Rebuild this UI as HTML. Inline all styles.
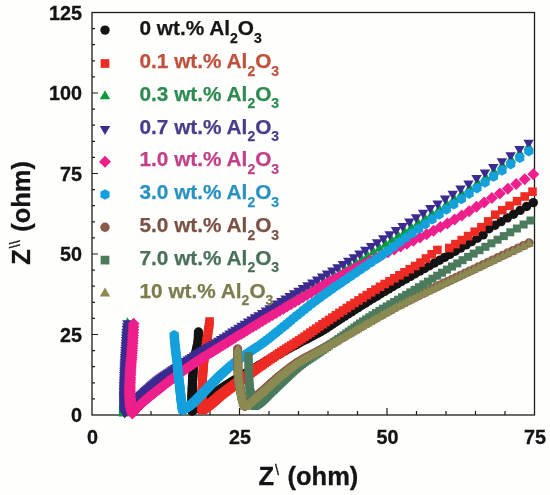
<!DOCTYPE html>
<html><head><meta charset="utf-8"><title>Nyquist plot</title>
<style>html,body{margin:0;padding:0;background:#fefefd}body{width:550px;height:495px;overflow:hidden}</style></head>
<body>
<svg width="550" height="495" viewBox="0 0 550 495" style="display:block;font-family:'Liberation Sans',sans-serif;font-weight:bold">
<rect width="550" height="495" fill="#fefefd"/>
<defs><marker id="m0" markerWidth="14" markerHeight="14" refX="0" refY="0" viewBox="-7 -7 14 14" markerUnits="userSpaceOnUse" overflow="visible"><circle r="4.7" fill="#131313"/></marker><marker id="m1" markerWidth="14" markerHeight="14" refX="0" refY="0" viewBox="-7 -7 14 14" markerUnits="userSpaceOnUse" overflow="visible"><rect x="-4.3" y="-4.3" width="8.6" height="8.6" fill="#ee2a24"/></marker><marker id="m2" markerWidth="14" markerHeight="14" refX="0" refY="0" viewBox="-7 -7 14 14" markerUnits="userSpaceOnUse" overflow="visible"><path d="M0-5.2L5.2 3.8H-5.2Z" fill="#0a9b3c"/></marker><marker id="m3" markerWidth="14" markerHeight="14" refX="0" refY="0" viewBox="-7 -7 14 14" markerUnits="userSpaceOnUse" overflow="visible"><path d="M0 5.2L5.2-3.8H-5.2Z" fill="#3b2a8f"/></marker><marker id="m4" markerWidth="14" markerHeight="14" refX="0" refY="0" viewBox="-7 -7 14 14" markerUnits="userSpaceOnUse" overflow="visible"><path d="M0-6L6 0L0 6L-6 0Z" fill="#ee1f8c"/></marker><marker id="m5" markerWidth="14" markerHeight="14" refX="0" refY="0" viewBox="-7 -7 14 14" markerUnits="userSpaceOnUse" overflow="visible"><path d="M0-5.3L4.6-2.65V2.65L0 5.3L-4.6 2.65V-2.65Z" fill="#14a0dc"/></marker><marker id="m6" markerWidth="14" markerHeight="14" refX="0" refY="0" viewBox="-7 -7 14 14" markerUnits="userSpaceOnUse" overflow="visible"><circle r="4.7" fill="#8a5a4a"/></marker><marker id="m7" markerWidth="14" markerHeight="14" refX="0" refY="0" viewBox="-7 -7 14 14" markerUnits="userSpaceOnUse" overflow="visible"><rect x="-4.0" y="-4.0" width="8.0" height="8.0" fill="#4b7a5c"/></marker><marker id="m8" markerWidth="14" markerHeight="14" refX="0" refY="0" viewBox="-7 -7 14 14" markerUnits="userSpaceOnUse" overflow="visible"><path d="M0-4.6L4.8 3.6H-4.8Z" fill="#8b8a52"/></marker><clipPath id="cp"><rect x="84.0" y="12.5" width="457.5" height="409.5"/></clipPath></defs>
<path d="M92.0 398.90h3M92.0 382.80h3M92.0 366.70h3M92.0 350.60h3M92.0 334.50h6M92.0 318.40h3M92.0 302.30h3M92.0 286.20h3M92.0 270.10h3M92.0 254.00h6M92.0 237.90h3M92.0 221.80h3M92.0 205.70h3M92.0 189.60h3M92.0 173.50h6M92.0 157.40h3M92.0 141.30h3M92.0 125.20h3M92.0 109.10h3M92.0 93.00h6M92.0 76.90h3M92.0 60.80h3M92.0 44.70h3M92.0 28.60h3M121.50 415.0v-4M151.00 415.0v-4M180.50 415.0v-4M210.00 415.0v-4M239.50 415.0v-7M269.00 415.0v-4M298.50 415.0v-4M328.00 415.0v-4M357.50 415.0v-4M387.00 415.0v-7M416.50 415.0v-4M446.00 415.0v-4M475.50 415.0v-4M505.00 415.0v-4" stroke="#1c1c1c" stroke-width="1.2" fill="none"/>
<rect x="92.0" y="12.5" width="442.5" height="402.5" fill="none" stroke="#1c1c1c" stroke-width="1.3"/>
<g clip-path="url(#cp)">
<polyline points="198.5,332.0 198.4,335.0 198.3,337.9 198.0,340.8 197.7,343.5 197.1,346.1 196.5,348.7 196.0,351.2 195.5,353.6 195.1,356.0 194.7,358.3 194.4,360.6 194.1,362.8 193.8,364.9 193.6,367.0 193.3,369.1 193.2,371.1 193.0,373.0 192.9,374.9 192.8,376.7 192.7,378.5 192.6,380.3 192.5,382.0 192.5,383.6 192.4,385.2 192.3,386.8 192.3,388.3 192.2,389.8 192.2,391.2 192.1,392.6 192.1,394.0 192.1,395.3 192.0,396.6 192.0,397.9 192.0,399.1 192.0,400.3 192.0,401.5 192.0,402.6 192.0,403.7 192.0,404.8 192.0,405.8 192.0,406.8 192.0,407.8 192.0,408.8 192.0,409.7 192.0,410.6 192.0,411.0 192.5,410.6 193.0,410.2 193.5,409.8 194.0,409.3 194.5,408.9 195.0,408.5 195.6,408.0 196.1,407.6 196.7,407.1 197.3,406.6 197.8,406.2 198.4,405.7 199.0,405.2 199.7,404.7 200.3,404.2 200.9,403.7 201.6,403.2 202.3,402.6 202.9,402.1 203.6,401.6 204.3,401.0 205.1,400.5 205.8,399.9 206.5,399.3 207.3,398.7 208.1,398.1 208.9,397.5 209.7,396.9 210.5,396.3 211.4,395.7 212.2,395.0 213.1,394.4 214.0,393.7 214.9,393.1 215.8,392.4 216.8,391.7 217.8,391.0 218.7,390.4 219.8,389.7 220.8,389.0 221.9,388.3 222.9,387.5 224.0,386.8 225.2,386.1 226.3,385.3 227.5,384.6 228.7,383.8 229.9,383.0 231.1,382.2 232.4,381.5 233.7,380.6 235.0,379.8 236.4,379.0 237.8,378.2 239.2,377.3 240.6,376.5 242.0,375.6 243.5,374.7 245.0,373.8 246.6,372.9 248.2,371.9 249.8,371.0 251.4,370.0 253.1,369.1 254.8,368.1 256.5,367.1 258.2,366.0 260.0,365.0 261.8,363.9 263.7,362.8 265.6,361.8 267.5,360.6 269.5,359.5 271.5,358.4 273.5,357.2 275.6,356.0 277.7,354.8 279.9,353.6 282.1,352.4 284.3,351.1 286.6,349.8 288.9,348.6 291.3,347.3 293.7,345.9 296.2,344.6 298.7,343.2 301.2,341.8 303.9,340.5 306.6,339.1 309.3,337.7 312.1,336.3 314.9,334.8 317.8,333.2 320.7,331.6 323.5,329.9 326.5,328.1 329.4,326.2 332.4,324.3 335.4,322.3 338.5,320.2 341.6,318.2 344.8,316.1 348.1,314.0 351.5,311.9 354.9,309.7 358.3,307.6 361.9,305.3 365.5,303.1 369.2,300.8 373.0,298.5 376.8,296.2 380.7,293.8 384.7,291.4 388.8,289.0 393.0,286.5 397.2,284.0 401.5,281.5 406.0,279.0 410.5,276.4 415.1,273.8 419.8,271.1 424.6,268.5 429.5,265.8 434.5,263.0 439.6,260.2 444.7,257.4 449.9,254.4 455.2,251.3 460.6,248.1 466.1,244.9 471.6,241.6 477.3,238.3 483.1,234.9 489.0,228.7 495.0,225.2 501.1,221.6 507.3,217.9 513.6,214.2 520.1,210.4 526.6,206.5 533.3,202.6" fill="none" stroke="none" marker-start="url(#m0)" marker-mid="url(#m0)" marker-end="url(#m0)"/>
<polyline points="209.6,321.5 209.2,324.5 208.8,327.4 208.4,330.2 208.0,333.0 207.6,335.7 207.2,338.3 206.8,340.9 206.4,343.4 206.1,345.8 205.7,348.2 205.4,350.5 205.0,352.8 204.7,355.0 204.4,357.2 204.1,359.3 203.8,361.4 203.6,363.4 203.4,365.4 203.3,367.3 203.1,369.2 203.0,371.1 202.9,372.9 202.8,374.6 202.7,376.4 202.6,378.0 202.5,379.7 202.4,381.3 202.3,382.8 202.3,384.4 202.2,385.8 202.2,387.3 202.1,388.7 202.1,390.1 202.0,391.5 202.0,392.8 202.0,394.1 202.0,395.3 202.0,396.6 202.0,397.8 202.0,398.9 202.0,400.1 202.0,401.2 202.0,402.3 202.0,403.3 202.0,404.4 202.0,405.4 202.0,406.4 202.0,407.3 202.0,408.3 202.0,409.2 202.0,410.0 202.5,409.7 203.1,409.3 203.6,408.9 204.1,408.6 204.7,408.2 205.3,407.8 205.8,407.4 206.4,407.0 207.0,406.5 207.6,406.1 208.3,405.6 208.9,405.1 209.5,404.7 210.2,404.2 210.8,403.6 211.5,403.1 212.2,402.5 212.9,401.9 213.6,401.3 214.3,400.7 215.0,400.1 215.7,399.4 216.5,398.8 217.3,398.1 218.0,397.4 218.9,396.7 219.7,396.0 220.6,395.3 221.5,394.6 222.4,393.9 223.3,393.2 224.3,392.4 225.3,391.7 226.3,390.9 227.3,390.1 228.4,389.3 229.5,388.5 230.6,387.7 231.7,386.9 232.9,386.0 234.1,385.1 235.3,384.2 236.6,383.3 237.9,382.4 239.2,381.4 240.5,380.4 241.9,379.4 243.2,378.4 244.7,377.4 246.1,376.3 247.6,375.2 249.1,374.1 250.7,373.0 252.3,371.8 253.9,370.6 255.6,369.4 257.3,368.2 259.1,366.9 260.9,365.7 262.7,364.4 264.6,363.1 266.5,361.8 268.5,360.4 270.6,359.0 272.6,357.6 274.8,356.2 277.0,354.7 279.2,353.2 281.5,351.7 283.8,350.2 286.2,348.6 288.7,347.1 291.2,345.5 293.8,343.8 296.5,342.1 299.1,340.4 301.9,338.6 304.6,336.7 307.4,334.7 310.3,332.7 313.2,330.7 316.2,328.6 319.3,326.5 322.5,324.3 325.7,322.1 329.0,319.9 332.4,317.6 335.9,315.3 339.4,312.9 343.0,310.5 346.8,308.0 350.6,305.5 354.5,303.0 358.5,300.4 362.6,297.7 366.8,295.1 371.1,292.3 375.5,289.6 380.0,286.8 384.7,284.0 389.5,281.2 394.4,278.3 399.4,275.3 404.5,272.3 409.7,269.2 415.1,266.0 420.5,262.6 426.0,258.5 431.7,254.3 437.4,250.0 449.3,248.0 455.4,244.1 461.7,240.1 468.1,236.1 474.7,231.7 481.4,227.2 488.2,221.4 495.2,214.7 502.3,210.2 509.6,205.8 517.1,201.2 524.7,196.5 532.5,191.7" fill="none" stroke="none" marker-start="url(#m1)" marker-mid="url(#m1)" marker-end="url(#m1)"/>
<polyline points="127.5,322.5 127.3,325.5 127.1,328.4 127.0,331.3 126.8,334.1 126.7,336.8 126.5,339.4 126.4,342.0 126.3,344.6 126.2,347.1 126.0,349.5 125.9,351.8 125.8,354.1 125.8,356.4 125.7,358.6 125.6,360.8 125.5,362.9 125.4,364.9 125.4,366.9 125.3,368.9 125.2,370.8 125.1,372.6 125.1,374.4 125.0,376.2 124.9,378.0 124.8,379.7 124.8,381.3 124.7,382.9 124.6,384.5 124.6,386.0 124.5,387.5 124.4,389.0 124.4,390.4 124.3,391.8 124.3,393.2 124.2,394.6 124.2,395.9 124.1,397.1 124.1,398.4 124.1,399.6 124.0,400.8 124.0,401.9 123.9,403.1 123.9,404.2 123.9,405.2 123.9,406.3 123.8,407.3 123.8,408.3 123.8,409.3 123.8,410.3 123.7,411.2 123.7,412.1 123.7,412.7 124.2,412.3 124.6,411.9 125.1,411.5 125.6,411.1 126.1,410.7 126.6,410.2 127.2,409.8 127.7,409.3 128.3,408.9 128.8,408.4 129.4,407.9 130.0,407.4 130.6,406.9 131.2,406.4 131.8,405.9 132.5,405.4 133.1,404.8 133.8,404.2 134.5,403.7 135.2,403.1 135.9,402.5 136.6,401.9 137.3,401.2 138.1,400.6 138.9,400.0 139.7,399.3 140.5,398.6 141.3,397.9 142.1,397.2 143.0,396.4 143.9,395.7 144.7,394.9 145.7,394.1 146.6,393.3 147.5,392.4 148.5,391.6 149.5,390.7 150.5,389.8 151.5,388.9 152.6,388.0 153.7,387.0 154.8,386.1 156.0,385.2 157.1,384.2 158.4,383.2 159.6,382.3 160.9,381.3 162.3,380.3 163.7,379.4 165.1,378.4 166.6,377.4 168.1,376.4 169.7,375.4 171.3,374.4 173.0,373.4 174.6,372.3 176.4,371.2 178.1,370.2 179.9,369.0 181.8,367.9 183.7,366.7 185.6,365.6 187.6,364.4 189.6,363.2 191.7,361.9 193.8,360.7 195.9,359.4 198.2,358.1 200.4,356.7 202.8,355.4 205.1,354.0 207.6,352.7 210.1,351.2 212.6,349.8 215.2,348.3 217.9,346.8 220.5,345.2 223.3,343.5 226.0,341.8 228.9,340.0 231.7,338.2 234.7,336.3 237.7,334.4 240.7,332.4 243.8,330.3 247.0,328.3 250.3,326.2 253.6,324.0 257.0,321.9 260.5,319.7 264.2,317.4 267.8,315.2 271.6,312.9 275.5,310.6 279.5,308.2 283.5,305.8 287.7,303.3 291.9,300.8 296.2,298.2 300.7,295.6 305.2,292.9 309.8,290.2 314.6,287.5 319.4,284.7 324.4,281.8 329.5,278.8 334.6,275.8 339.9,272.7 345.2,269.4 350.7,266.1 356.2,262.7 361.9,259.1 367.7,255.5 373.6,251.7 379.6,247.9 385.7,244.0 391.9,240.0 398.3,235.8 404.8,231.5 411.4,227.2 418.2,222.7 425.1,218.1 432.1,213.4 439.3,208.6 446.7,203.6 454.1,198.5 461.8,193.3 469.6,188.0 477.5,182.5 485.6,176.9 493.9,171.1 502.3,165.2 510.9,159.1 519.7,152.9 528.6,146.5" fill="none" stroke="none" marker-start="url(#m2)" marker-mid="url(#m2)" marker-end="url(#m2)"/>
<polyline points="127.4,324.0 127.1,327.0 126.9,329.9 126.6,332.8 126.4,335.5 126.2,338.3 126.0,340.9 125.9,343.5 125.7,346.0 125.6,348.5 125.4,350.9 125.3,353.3 125.2,355.6 125.0,357.8 124.9,360.0 124.8,362.2 124.7,364.3 124.6,366.3 124.6,368.3 124.5,370.2 124.4,372.1 124.4,374.0 124.3,375.8 124.3,377.6 124.2,379.3 124.2,381.0 124.1,382.6 124.1,384.2 124.0,385.8 124.0,387.3 124.0,388.8 123.9,390.3 123.9,391.7 123.9,393.1 123.9,394.5 123.9,395.8 123.9,397.1 123.9,398.4 123.9,399.6 124.0,400.8 124.0,402.0 124.0,403.1 124.1,404.3 124.1,405.3 124.1,406.4 124.2,407.5 124.2,408.5 124.3,409.5 124.3,410.4 124.4,411.4 124.4,412.3 124.5,413.4 124.9,412.9 125.4,412.4 125.8,411.8 126.3,411.3 126.8,410.7 127.2,410.2 127.7,409.6 128.2,409.0 128.8,408.4 129.3,407.8 129.8,407.2 130.4,406.6 131.0,405.9 131.5,405.3 132.1,404.6 132.7,404.0 133.4,403.3 134.0,402.6 134.7,401.9 135.4,401.2 136.1,400.5 136.8,399.7 137.5,399.0 138.2,398.2 139.0,397.5 139.8,396.7 140.6,395.9 141.4,395.1 142.3,394.3 143.2,393.5 144.1,392.6 145.0,391.8 145.9,390.9 146.9,390.0 147.9,389.1 148.9,388.2 150.0,387.2 151.0,386.3 152.1,385.4 153.3,384.4 154.5,383.4 155.7,382.4 156.9,381.4 158.1,380.4 159.4,379.4 160.8,378.4 162.2,377.4 163.6,376.4 165.1,375.3 166.6,374.3 168.1,373.2 169.7,372.2 171.4,371.1 173.0,370.0 174.8,368.9 176.5,367.8 178.3,366.6 180.1,365.4 182.0,364.2 183.9,362.9 185.8,361.7 187.8,360.4 189.8,359.0 191.9,357.7 194.0,356.3 196.2,354.9 198.4,353.5 200.7,352.1 203.1,350.6 205.5,349.2 207.9,347.7 210.5,346.2 213.1,344.7 215.7,343.1 218.4,341.5 221.1,339.8 223.8,338.1 226.7,336.2 229.5,334.4 232.4,332.4 235.4,330.5 238.5,328.5 241.6,326.5 244.8,324.5 248.1,322.4 251.5,320.3 254.9,318.1 258.5,316.0 262.1,313.7 265.8,311.4 269.5,309.1 273.4,306.7 277.3,304.3 281.3,301.9 285.5,299.3 289.7,296.8 294.0,294.1 298.4,291.5 302.9,288.7 307.5,286.0 312.3,283.2 317.1,280.3 322.1,277.4 327.1,274.4 332.3,271.3 337.5,268.1 342.9,264.9 348.3,261.5 353.8,258.0 359.5,254.3 365.2,250.6 371.1,246.9 377.1,243.0 383.3,239.0 389.6,235.0 396.0,230.9 402.6,226.7 409.3,222.4 416.1,218.0 423.1,213.5 430.3,208.9 437.6,204.2 445.1,199.4 452.7,194.5 460.5,189.4 468.5,184.2 476.6,178.9 484.9,173.4 493.3,167.8 501.9,162.0 510.6,156.0 519.5,149.9 528.6,143.5" fill="none" stroke="none" marker-start="url(#m3)" marker-mid="url(#m3)" marker-end="url(#m3)"/>
<polyline points="133.6,323.8 133.5,326.8 133.3,329.7 133.2,332.6 133.0,335.4 132.9,338.1 132.7,340.7 132.6,343.3 132.4,345.9 132.2,348.3 132.0,350.8 131.9,353.1 131.7,355.4 131.5,357.7 131.3,359.8 131.1,362.0 130.9,364.1 130.8,366.1 130.6,368.1 130.5,370.1 130.4,372.0 130.3,373.8 130.2,375.6 130.1,377.4 130.1,379.1 130.0,380.8 130.0,382.5 129.9,384.1 129.9,385.7 129.8,387.2 129.8,388.7 129.8,390.2 129.8,391.6 129.8,393.0 129.9,394.3 129.9,395.7 130.0,397.0 130.1,398.2 130.1,399.5 130.2,400.7 130.3,401.9 130.4,403.0 130.5,404.1 130.6,405.2 130.8,406.3 131.0,407.3 131.2,408.3 131.4,409.3 131.6,410.2 131.8,411.2 132.0,412.1 132.2,413.0 132.3,413.3 132.7,412.8 133.1,412.3 133.6,411.8 134.0,411.3 134.5,410.8 135.0,410.3 135.4,409.7 135.9,409.2 136.4,408.6 137.0,408.1 137.5,407.5 138.0,406.9 138.6,406.4 139.2,405.8 139.8,405.2 140.4,404.6 141.0,404.0 141.7,403.4 142.3,402.8 143.0,402.2 143.7,401.6 144.4,400.9 145.2,400.3 145.9,399.6 146.7,399.0 147.5,398.3 148.3,397.6 149.2,397.0 150.0,396.3 150.9,395.5 151.8,394.8 152.7,394.1 153.6,393.4 154.6,392.6 155.5,391.8 156.5,391.0 157.5,390.2 158.6,389.4 159.6,388.6 160.7,387.7 161.8,386.9 162.9,386.0 164.0,385.1 165.2,384.2 166.4,383.3 167.6,382.3 168.8,381.3 170.1,380.4 171.4,379.4 172.7,378.4 174.1,377.4 175.5,376.3 176.9,375.3 178.3,374.2 179.8,373.1 181.3,372.0 182.9,370.9 184.5,369.8 186.1,368.7 187.8,367.6 189.5,366.4 191.3,365.2 193.1,364.0 194.9,362.8 196.8,361.6 198.7,360.3 200.7,359.1 202.7,357.8 204.7,356.5 206.8,355.2 208.9,353.8 211.1,352.5 213.4,351.1 215.7,349.7 218.0,348.2 220.4,346.8 222.8,345.3 225.3,343.7 227.8,342.2 230.3,340.6 233.0,339.0 235.7,337.3 238.4,335.6 241.2,333.9 244.0,332.2 246.9,330.4 249.9,328.6 253.0,326.7 256.1,324.9 259.2,323.0 262.5,321.0 265.8,319.1 269.1,317.1 272.6,315.0 276.1,312.9 279.7,310.8 283.4,308.7 287.1,306.5 290.9,304.3 294.9,302.0 298.8,299.7 302.9,297.3 307.0,294.9 311.3,292.4 315.6,289.9 320.0,287.3 324.5,284.7 329.1,282.0 333.8,279.4 338.7,276.7 343.6,274.1 348.7,271.4 354.0,268.8 359.3,266.1 364.8,263.4 370.4,260.6 376.2,257.9 382.0,255.0 388.0,252.2 394.2,249.4 400.5,246.6 406.9,243.7 413.4,240.7 420.0,237.5 426.7,234.2 433.5,230.7 440.4,227.1 447.4,223.4 454.6,219.5 461.8,215.4 469.1,211.2 476.5,206.8 484.1,202.4 491.9,197.9 499.8,193.4 507.9,188.7 516.2,184.0 524.7,179.2 533.3,174.3" fill="none" stroke="none" marker-start="url(#m4)" marker-mid="url(#m4)" marker-end="url(#m4)"/>
<polyline points="174.2,335.2 174.4,338.2 174.7,341.1 174.9,343.9 175.2,346.7 175.5,349.3 175.8,351.9 176.1,354.4 176.4,356.8 176.7,359.2 177.0,361.5 177.2,363.8 177.4,365.9 177.7,368.0 177.9,370.1 178.1,372.1 178.3,374.0 178.5,375.9 178.7,377.8 178.9,379.5 179.1,381.3 179.3,382.9 179.5,384.6 179.7,386.2 179.9,387.7 180.0,389.2 180.2,390.7 180.3,392.1 180.5,393.5 180.6,394.8 180.8,396.1 180.9,397.4 181.0,398.6 181.2,399.8 181.3,400.9 181.5,402.1 181.6,403.2 181.8,404.2 181.9,405.2 182.0,406.2 182.2,407.2 182.3,408.2 182.5,409.1 182.6,410.0 183.2,409.7 183.7,409.4 184.3,409.1 184.9,408.8 185.5,408.5 186.1,408.1 186.7,407.7 187.3,407.3 187.9,406.9 188.6,406.5 189.2,406.1 189.9,405.6 190.5,405.1 191.2,404.6 191.8,404.1 192.5,403.5 193.2,402.9 193.8,402.2 194.5,401.6 195.2,400.9 195.9,400.1 196.7,399.4 197.4,398.6 198.2,397.9 199.0,397.1 199.8,396.2 200.6,395.4 201.4,394.6 202.3,393.7 203.1,392.8 204.0,391.8 204.9,390.9 205.8,389.9 206.8,388.9 207.8,387.8 208.8,386.8 209.8,385.7 210.9,384.6 212.0,383.5 213.1,382.3 214.3,381.2 215.4,380.0 216.7,378.7 217.9,377.5 219.2,376.2 220.6,374.9 222.0,373.6 223.4,372.3 224.9,370.9 226.5,369.6 228.1,368.2 229.7,366.7 231.4,365.3 233.2,363.9 235.0,362.4 236.9,360.9 238.8,359.4 240.8,357.9 242.9,356.4 245.1,354.9 247.3,353.3 249.6,351.8 252.0,350.2 254.5,348.6 257.0,347.0 259.6,345.3 262.1,343.5 264.7,341.6 267.3,339.6 270.0,337.5 272.8,335.3 275.5,333.1 278.4,330.8 281.3,328.4 284.3,326.0 287.3,323.5 290.4,320.9 293.6,318.2 296.9,315.5 300.3,312.8 303.8,310.0 307.4,307.1 311.1,304.2 314.9,301.3 318.9,298.3 322.9,295.4 327.2,292.4 331.5,289.3 336.0,286.2 340.6,283.1 345.4,279.8 350.2,276.5 355.2,273.1 360.3,269.6 365.6,266.1 371.0,262.5 376.6,258.8 382.2,254.9 387.9,250.9 393.7,246.6 399.6,242.2 405.7,237.8 412.1,233.3 418.6,228.8 425.2,224.1 432.1,219.3 439.1,214.4 446.3,209.4 453.7,204.3 461.3,199.0 469.1,193.6 477.0,188.1 485.1,182.4 493.5,176.5 502.0,170.4 510.7,164.2 519.7,157.8 528.8,151.2" fill="none" stroke="none" marker-start="url(#m5)" marker-mid="url(#m5)" marker-end="url(#m5)"/>
<polyline points="237.6,349.0 237.6,352.0 237.6,354.9 237.7,357.7 237.7,360.4 237.8,363.0 237.9,365.4 237.9,367.8 238.0,370.1 238.1,372.3 238.3,374.5 238.4,376.5 238.6,378.5 238.9,380.4 239.1,382.2 239.4,384.0 239.7,385.7 240.0,387.3 240.2,388.9 240.5,390.4 240.8,391.9 241.1,393.3 241.4,394.6 241.6,395.9 241.9,397.1 242.1,398.3 242.4,399.4 242.7,400.5 243.0,401.6 243.3,402.6 243.6,403.5 243.9,404.5 244.3,405.3 244.6,406.3 245.1,405.9 245.5,405.5 246.0,405.1 246.5,404.7 247.0,404.3 247.5,403.9 248.0,403.5 248.6,403.1 249.1,402.6 249.6,402.2 250.2,401.7 250.7,401.3 251.3,400.8 251.9,400.3 252.5,399.9 253.0,399.4 253.7,398.9 254.3,398.4 254.9,397.8 255.5,397.3 256.2,396.8 256.8,396.2 257.5,395.7 258.1,395.1 258.8,394.5 259.5,393.9 260.2,393.3 260.9,392.7 261.6,392.1 262.4,391.4 263.1,390.8 263.9,390.1 264.6,389.4 265.4,388.7 266.2,388.0 267.0,387.3 267.8,386.6 268.6,385.8 269.4,385.0 270.3,384.3 271.1,383.5 272.0,382.7 272.9,381.9 273.8,381.1 274.8,380.2 275.7,379.4 276.7,378.6 277.7,377.7 278.7,376.9 279.7,376.0 280.8,375.2 281.9,374.3 283.0,373.4 284.1,372.5 285.3,371.6 286.5,370.6 287.7,369.7 288.9,368.8 290.2,367.8 291.4,366.9 292.8,365.9 294.1,364.9 295.5,364.0 296.9,363.0 298.3,362.1 299.8,361.1 301.3,360.2 302.9,359.3 304.5,358.4 306.1,357.5 307.8,356.6 309.6,355.7 311.3,354.8 313.1,353.9 315.0,353.0 316.8,352.0 318.7,351.0 320.6,350.0 322.5,348.9 324.4,347.8 326.4,346.7 328.4,345.6 330.4,344.4 332.5,343.2 334.6,342.0 336.7,340.8 338.8,339.6 341.0,338.3 343.3,337.0 345.5,335.7 347.8,334.4 350.2,333.0 352.6,331.6 355.0,330.2 357.4,328.8 359.9,327.3 362.5,325.8 365.1,324.3 367.7,322.8 370.4,321.3 373.1,319.7 375.9,318.1 378.7,316.5 381.6,314.9 384.5,313.2 387.5,311.6 390.6,309.9 393.7,308.2 396.8,306.5 400.1,304.8 403.4,303.1 406.7,301.4 410.2,299.7 413.6,297.9 417.2,296.2 420.8,294.4 424.5,292.6 428.2,290.8 432.1,288.9 435.9,287.1 439.9,285.2 443.9,283.3 448.0,281.4 452.2,279.4 456.4,277.4 460.7,275.4 465.1,273.3 469.5,271.2 474.1,269.1 478.6,266.9 483.3,264.7 488.1,262.4 492.9,260.1 497.8,257.8 502.8,255.4 507.8,253.0 513.0,250.6 518.2,248.1 523.6,245.6 529.0,243.0" fill="none" stroke="none" marker-start="url(#m6)" marker-mid="url(#m6)" marker-end="url(#m6)"/>
<polyline points="248.5,356.2 248.5,359.2 248.5,362.1 248.6,364.9 248.7,367.6 248.7,370.1 248.8,372.5 248.9,374.8 249.0,377.0 249.1,379.1 249.2,381.1 249.3,383.1 249.4,384.9 249.5,386.6 249.7,388.3 249.9,389.9 250.2,391.5 250.5,392.9 250.9,394.3 251.2,395.6 251.6,396.9 251.9,398.1 252.3,399.3 252.6,400.4 253.0,401.5 253.3,402.5 253.6,403.5 254.0,404.4 254.3,405.3 254.5,406.0 255.0,405.7 255.6,405.4 256.2,405.1 256.7,404.7 257.3,404.4 257.9,404.0 258.5,403.6 259.0,403.2 259.6,402.8 260.2,402.3 260.8,401.9 261.4,401.4 262.0,400.8 262.6,400.3 263.2,399.7 263.9,399.1 264.5,398.5 265.1,397.9 265.8,397.2 266.4,396.6 267.1,395.9 267.8,395.2 268.5,394.5 269.2,393.7 270.0,393.0 270.8,392.3 271.5,391.5 272.4,390.8 273.2,390.0 274.0,389.2 274.9,388.3 275.8,387.5 276.7,386.6 277.6,385.8 278.5,384.9 279.5,384.0 280.5,383.0 281.5,382.1 282.6,381.1 283.6,380.1 284.7,379.1 285.8,378.0 287.0,376.9 288.1,375.9 289.3,374.7 290.6,373.6 291.8,372.5 293.1,371.3 294.4,370.1 295.8,368.9 297.2,367.7 298.7,366.5 300.2,365.3 301.8,364.1 303.4,362.9 305.1,361.7 306.9,360.5 308.7,359.3 310.5,358.1 312.5,356.8 314.4,355.5 316.4,354.2 318.4,352.9 320.5,351.5 322.6,350.0 324.7,348.6 326.9,347.1 329.2,345.5 331.5,343.9 333.8,342.3 336.2,340.7 338.6,339.0 341.1,337.2 343.6,335.4 346.2,333.5 348.8,331.6 351.5,329.6 354.3,327.6 357.1,325.6 360.0,323.5 363.0,321.4 366.1,319.4 369.3,317.3 372.5,315.2 375.9,313.1 379.4,310.9 382.9,308.7 386.6,306.5 390.3,304.3 394.1,302.0 398.0,299.7 402.0,297.3 406.1,294.9 410.3,292.4 414.6,289.8 418.9,287.2 423.4,284.4 427.9,281.6 432.5,278.7 437.2,275.7 442.0,272.7 447.0,269.6 452.0,266.5 457.3,263.4 462.6,260.2 468.1,256.9 473.7,253.6 479.5,250.2 485.4,246.8 491.4,243.3 497.6,239.7 503.8,236.1 510.3,232.3 516.9,228.5 523.6,224.5 530.5,220.5" fill="none" stroke="none" marker-start="url(#m7)" marker-mid="url(#m7)" marker-end="url(#m7)"/>
<polyline points="237.8,349.2 237.8,352.2 237.8,355.1 237.9,357.9 237.9,360.6 238.0,363.2 238.1,365.6 238.1,368.0 238.2,370.3 238.3,372.5 238.5,374.7 238.7,376.7 238.9,378.7 239.1,380.6 239.4,382.4 239.6,384.2 239.9,385.9 240.2,387.5 240.5,389.1 240.8,390.6 241.1,392.1 241.3,393.4 241.6,394.8 241.9,396.1 242.1,397.3 242.4,398.5 242.6,399.6 242.9,400.7 243.2,401.8 243.5,402.8 243.9,403.7 244.2,404.7 244.5,405.5 244.8,406.5 245.3,406.1 245.7,405.7 246.2,405.3 246.7,404.9 247.2,404.5 247.7,404.1 248.2,403.6 248.7,403.2 249.2,402.8 249.7,402.3 250.3,401.9 250.8,401.4 251.4,400.9 252.0,400.4 252.5,399.9 253.1,399.4 253.7,398.9 254.3,398.4 254.9,397.9 255.6,397.3 256.2,396.8 256.8,396.2 257.5,395.7 258.2,395.1 258.8,394.5 259.5,393.9 260.2,393.3 260.9,392.7 261.6,392.1 262.4,391.4 263.1,390.8 263.9,390.1 264.6,389.4 265.4,388.7 266.2,388.0 267.0,387.3 267.8,386.5 268.6,385.8 269.4,385.0 270.3,384.3 271.1,383.5 272.0,382.7 272.9,381.9 273.8,381.1 274.8,380.2 275.7,379.4 276.7,378.6 277.7,377.7 278.7,376.9 279.7,376.0 280.8,375.2 281.9,374.3 283.0,373.4 284.1,372.5 285.3,371.6 286.5,370.6 287.7,369.7 288.9,368.8 290.2,367.8 291.4,366.9 292.8,365.9 294.1,364.9 295.5,364.0 296.9,363.0 298.3,362.1 299.8,361.1 301.3,360.2 302.9,359.3 304.5,358.4 306.1,357.5 307.8,356.6 309.6,355.7 311.3,354.8 313.1,353.9 315.0,353.0 316.8,352.0 318.7,351.0 320.6,350.0 322.5,348.9 324.4,347.8 326.4,346.7 328.4,345.6 330.4,344.4 332.5,343.2 334.5,342.0 336.7,340.8 338.8,339.6 341.0,338.3 343.3,337.0 345.5,335.7 347.8,334.4 350.2,333.0 352.6,331.6 355.0,330.2 357.4,328.8 359.9,327.3 362.5,325.8 365.1,324.3 367.7,322.8 370.4,321.3 373.1,319.7 375.9,318.1 378.7,316.5 381.6,314.9 384.5,313.2 387.5,311.6 390.6,309.9 393.7,308.2 396.8,306.5 400.1,304.8 403.4,303.1 406.7,301.4 410.1,299.7 413.6,298.0 417.2,296.2 420.8,294.4 424.5,292.6 428.2,290.8 432.0,288.9 435.9,287.1 439.9,285.2 443.9,283.3 448.0,281.4 452.2,279.4 456.4,277.4 460.7,275.4 465.1,273.3 469.5,271.2 474.0,269.1 478.6,266.9 483.3,264.7 488.1,262.4 492.9,260.1 497.8,257.8 502.8,255.4 507.8,253.0 513.0,250.6 518.2,248.1 523.6,245.6 529.0,243.0" fill="none" stroke="none" marker-start="url(#m8)" marker-mid="url(#m8)" marker-end="url(#m8)"/>
</g>
<text x="82" y="422.0" font-size="19.8" text-anchor="end" fill="#141414" stroke="#141414" stroke-width="0.3">0</text>
<text x="82" y="341.5" font-size="19.8" text-anchor="end" fill="#141414" stroke="#141414" stroke-width="0.3">25</text>
<text x="82" y="261.0" font-size="19.8" text-anchor="end" fill="#141414" stroke="#141414" stroke-width="0.3">50</text>
<text x="82" y="180.5" font-size="19.8" text-anchor="end" fill="#141414" stroke="#141414" stroke-width="0.3">75</text>
<text x="82" y="100.0" font-size="19.8" text-anchor="end" fill="#141414" stroke="#141414" stroke-width="0.3">100</text>
<text x="82" y="19.5" font-size="19.8" text-anchor="end" fill="#141414" stroke="#141414" stroke-width="0.3">125</text>
<text x="92.5" y="443.7" font-size="19.8" text-anchor="middle" fill="#141414" stroke="#141414" stroke-width="0.3">0</text>
<text x="240.0" y="443.7" font-size="19.8" text-anchor="middle" fill="#141414" stroke="#141414" stroke-width="0.3">25</text>
<text x="387.5" y="443.7" font-size="19.8" text-anchor="middle" fill="#141414" stroke="#141414" stroke-width="0.3">50</text>
<text x="535.0" y="443.7" font-size="19.8" text-anchor="middle" fill="#141414" stroke="#141414" stroke-width="0.3">75</text>
<g transform="translate(105,30.1)"><circle r="4.7" fill="#131313"/></g>
<text x="139.5" y="35.2" font-size="20.8" fill="#161616" stroke="#161616" stroke-width="0.25">0 wt.% Al<tspan font-size="14" dy="7.5">2</tspan><tspan dy="-7.5">O</tspan><tspan font-size="14" dy="7.5">3</tspan></text>
<g transform="translate(105,63.5)"><rect x="-4.35" y="-4.35" width="8.7" height="8.7" fill="#ee2a24"/></g>
<text x="139.5" y="68.0" font-size="20.8" fill="#c0513c" stroke="#c0513c" stroke-width="0.25">0.1 wt.% Al<tspan font-size="14" dy="7.5">2</tspan><tspan dy="-7.5">O</tspan><tspan font-size="14" dy="7.5">3</tspan></text>
<g transform="translate(105,95.5)"><path d="M0-5.2L5.2 3.8H-5.2Z" fill="#0a9b3c"/></g>
<text x="139.5" y="100.8" font-size="20.8" fill="#2e8b50" stroke="#2e8b50" stroke-width="0.25">0.3 wt.% Al<tspan font-size="14" dy="7.5">2</tspan><tspan dy="-7.5">O</tspan><tspan font-size="14" dy="7.5">3</tspan></text>
<g transform="translate(105,129.7)"><path d="M0 5.2L5.2-3.8H-5.2Z" fill="#3b2a8f"/></g>
<text x="139.5" y="133.6" font-size="20.8" fill="#4a3c8a" stroke="#4a3c8a" stroke-width="0.25">0.7 wt.% Al<tspan font-size="14" dy="7.5">2</tspan><tspan dy="-7.5">O</tspan><tspan font-size="14" dy="7.5">3</tspan></text>
<g transform="translate(105,161.8)"><path d="M0-6L6 0L0 6L-6 0Z" fill="#ee1f8c"/></g>
<text x="139.5" y="166.4" font-size="20.8" fill="#c2408a" stroke="#c2408a" stroke-width="0.25">1.0 wt.% Al<tspan font-size="14" dy="7.5">2</tspan><tspan dy="-7.5">O</tspan><tspan font-size="14" dy="7.5">3</tspan></text>
<g transform="translate(105,194.5)"><path d="M0-5.3L4.6-2.65V2.65L0 5.3L-4.6 2.65V-2.65Z" fill="#14a0dc"/></g>
<text x="139.5" y="199.2" font-size="20.8" fill="#2a92c2" stroke="#2a92c2" stroke-width="0.25">3.0 wt.% Al<tspan font-size="14" dy="7.5">2</tspan><tspan dy="-7.5">O</tspan><tspan font-size="14" dy="7.5">3</tspan></text>
<g transform="translate(105,227.3)"><circle r="4.7" fill="#8a5a4a"/></g>
<text x="139.5" y="232.0" font-size="20.8" fill="#7a5244" stroke="#7a5244" stroke-width="0.25">5.0 wt.% Al<tspan font-size="14" dy="7.5">2</tspan><tspan dy="-7.5">O</tspan><tspan font-size="14" dy="7.5">3</tspan></text>
<g transform="translate(105,260.1)"><rect x="-4.35" y="-4.35" width="8.7" height="8.7" fill="#4b7a5c"/></g>
<text x="139.5" y="264.8" font-size="20.8" fill="#4a705a" stroke="#4a705a" stroke-width="0.25">7.0 wt.% Al<tspan font-size="14" dy="7.5">2</tspan><tspan dy="-7.5">O</tspan><tspan font-size="14" dy="7.5">3</tspan></text>
<g transform="translate(105,292.8)"><path d="M0-5.2L5.2 3.8H-5.2Z" fill="#8b8a52"/></g>
<text x="139.5" y="297.6" font-size="20.8" fill="#7d7c4c" stroke="#7d7c4c" stroke-width="0.25">10 wt.% Al<tspan font-size="14" dy="7.5">2</tspan><tspan dy="-7.5">O</tspan><tspan font-size="14" dy="7.5">3</tspan></text>
<text x="258.5" y="484.8" font-size="25.5" fill="#141414" stroke="#141414" stroke-width="0.3">Z<tspan font-size="14.5" dx="1" dy="-10" font-weight="normal">\</tspan><tspan dy="10" dx="1.3"> (ohm)</tspan></text>
<text transform="translate(30.3,264.8) rotate(-90)" font-size="25.5" fill="#141414" stroke="#141414" stroke-width="0.3">Z<tspan font-size="14.5" dx="1" dy="-10" font-weight="normal">\\</tspan><tspan dy="10" dx="1.3"> (ohm)</tspan></text>
</svg>
</body></html>
